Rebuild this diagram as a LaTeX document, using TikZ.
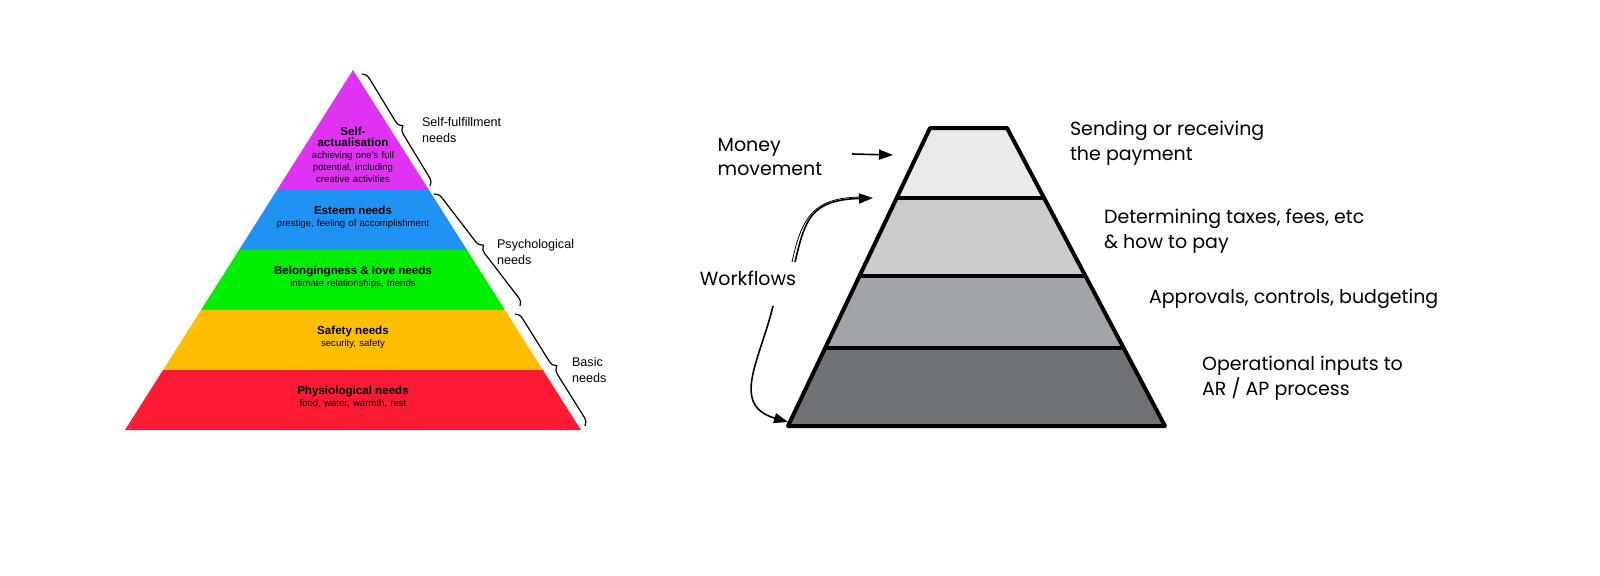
\documentclass[tikz,border=0pt]{standalone}
\usepackage{fontspec}
\setmainfont{Liberation Sans}
\newfontfamily\handf{Poppins}
\usetikzlibrary{decorations.pathreplacing,arrows.meta}
\definecolor{cmag}{HTML}{E032F2}
\definecolor{cblue}{HTML}{1E93F3}
\definecolor{cgreen}{HTML}{00EE00}
\definecolor{cyel}{HTML}{FFBF00}
\definecolor{cred}{HTML}{FF1A33}
\definecolor{g1}{HTML}{E9EAEB}
\definecolor{g2}{HTML}{C9CBCD}
\definecolor{g3}{HTML}{A1A5A9}
\definecolor{g4}{HTML}{6F7377}
\tikzset{
 lvl/.style={font=\fontsize{4.8}{6}\selectfont, align=center, text width=150pt},
 brc/.style={decorate, decoration={brace, amplitude=4pt}, semithick},
 side/.style={font=\fontsize{6.3}{8}\selectfont, align=left},
 hand/.style={font=\handf\fontsize{9.5}{12.5}\selectfont, align=left},
 arr/.style={-{Triangle[length=7pt,width=5pt]}, thick}
}
\newcommand{\bt}[1]{{\fontsize{5.8}{7}\selectfont\textbf{#1}}}
\begin{document}
\begin{tikzpicture}[x=0.5pt,y=-0.5pt]
\useasboundingbox (0,0) rectangle (1600,575);
\fill[cmag] (353,70) -- ({353+0.6333*120},190) -- ({353-0.6333*120},190) -- cycle;
\fill[cblue] ({353-0.6333*120},190) -- ({353+0.6333*120},190) -- ({353+0.6333*180},250) -- ({353-0.6333*180},250) -- cycle;
\fill[cgreen] ({353-0.6333*180},250) -- ({353+0.6333*180},250) -- ({353+0.6333*240},310) -- ({353-0.6333*240},310) -- cycle;
\fill[cyel] ({353-0.6333*240},310) -- ({353+0.6333*240},310) -- ({353+0.6333*300},370) -- ({353-0.6333*300},370) -- cycle;
\fill[cred] ({353-0.6333*300},370) -- ({353+0.6333*300},370) -- ({353+0.6333*360},430) -- ({353-0.6333*360},430) -- cycle;
\node[lvl] (t1) at (353,155) {\bt{Self-}\\[-0.5pt]\bt{actualisation}\\achieving one's full\\potential, including\\creative activities};
\node[lvl] (t2) at (353,217) {\bt{Esteem needs}\\prestige, feeling of accomplishment};
\node[lvl] (t3) at (353,277) {\bt{Belongingness \& love needs}\\intimate relationships, friends};
\node[lvl] (t4) at (353,337) {\bt{Safety needs}\\security, safety};
\node[lvl] (t5) at (353,397) {\bt{Physiological needs}\\food, water, warmth, rest};
\coordinate (b1a) at (362,74); \coordinate (b1b) at (430,186);
\coordinate (b2a) at (434,194); \coordinate (b2b) at (520,306);
\coordinate (b3a) at (515,314); \coordinate (b3b) at (585,426);
\draw[brc] (b1a) -- (b1b);
\draw[brc] (b2a) -- (b2b);
\draw[brc] (b3a) -- (b3b);
\node[side,anchor=west] (s1) at (415,130) {Self-fulfillment\\needs};
\node[side,anchor=west] (s2) at (490,252) {Psychological\\needs};
\node[side,anchor=west] (s3) at (565,370) {Basic\\needs};
\fill[g1] (930,128) -- (1007,128) -- (1044,198) -- (897,198) -- cycle;
\fill[g2] (897,198) -- (1044,198) -- (1087,276) -- (860,276) -- cycle;
\fill[g3] (860,276) -- (1087,276) -- (1125,348) -- (825,348) -- cycle;
\fill[g4] (825,348) -- (1125,348) -- (1165,426) -- (788,426) -- cycle;
\draw[line width=2pt,line join=round] (930,128) -- (1007,128) -- (1165,426) -- (788,426) -- cycle;
\draw[line width=1.8pt] (897,198) -- (1044,198);
\draw[line width=1.8pt] (860,276) -- (1087,276);
\draw[line width=1.8pt] (825,348) -- (1125,348);
\coordinate (p1) at (893,155);
\coordinate (p2) at (873,198);
\coordinate (p4) at (788,422);
\node[hand] (mm) at (770,157) {Money\\movement};
\node[hand] (wf) at (748,278) {Workflows};
\draw[arr] (852,154) -- (p1);
\draw[arr] (795,262) .. controls (805,220) and (810,200) .. (p2);
\draw[thin] (792,262) .. controls (802,215) and (815,198) .. (860,197);
\draw[arr] (773,306) .. controls (760,360) and (730,405) .. (p4);
\node[hand,anchor=west] (r1) at (1063,143) {Sending or receiving\\the payment};
\node[hand,anchor=west] (r2) at (1097,231) {Determining taxes, fees, etc\\\& how to pay};
\node[hand,anchor=west] (r3) at (1142,299) {Approvals, controls, budgeting};
\node[hand,anchor=west] (r4) at (1195,378) {Operational inputs to\\AR / AP process};
\end{tikzpicture}
\end{document}
